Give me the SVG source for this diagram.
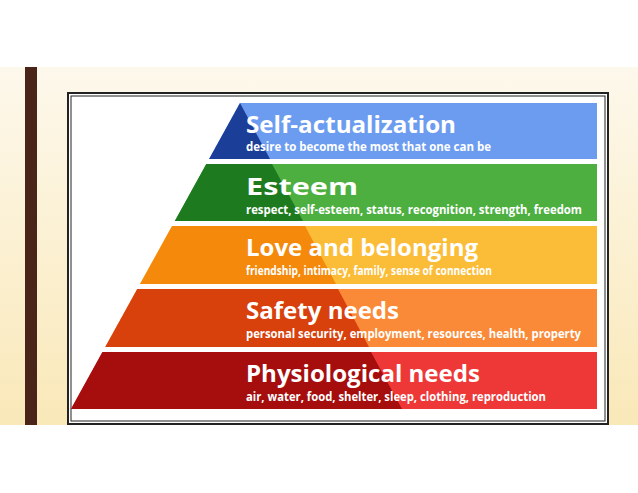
<svg xmlns="http://www.w3.org/2000/svg" width="638" height="493" viewBox="0 0 638 493">
<defs>
<linearGradient id="bg" x1="0" y1="0" x2="0" y2="1"><stop offset="0" stop-color="#fdf8ec"/><stop offset="1" stop-color="#f9e8b8"/></linearGradient>
<clipPath id="pyr"><polygon points="240,103 597,103 597,409 71,409"/></clipPath>
</defs>
<style>
.t{font-family:"Open Sans","DejaVu Sans",sans-serif;font-weight:bold;fill:#fff}
.h{font-size:24px}.s{font-size:12px}
</style>
<rect width="638" height="493" fill="#fff"/>
<rect x="0" y="67" width="638" height="358" fill="url(#bg)"/>
<rect x="25" y="67" width="12" height="358" fill="#4a2418"/>
<rect x="68" y="93" width="540" height="331" fill="#fff" stroke="#222" stroke-width="2"/>
<rect x="71" y="96" width="534" height="325" fill="none" stroke="#222" stroke-width="1"/>
<g clip-path="url(#pyr)">
<g id="n1"><rect x="60" y="103" width="540" height="56" fill="#6c9cf0"/><polygon points="240,103 270,159 60,159 60,103" fill="#1b3f98"/></g>
<g id="n2"><rect x="60" y="164" width="540" height="57" fill="#4caf3f"/><polygon points="272,164 303,221 60,221 60,164" fill="#1e7a1e"/></g>
<g id="n3"><rect x="60" y="226" width="540" height="58" fill="#fbbd38"/><polygon points="305,226 336,284 60,284 60,226" fill="#f5890c"/></g>
<g id="n4"><rect x="60" y="289" width="540" height="58" fill="#fa8a38"/><polygon points="338,289 369,347 60,347 60,289" fill="#d8400c"/></g>
<g id="n5"><rect x="60" y="352" width="540" height="57" fill="#ee3838"/><polygon points="371,352 402,409 60,409 60,352" fill="#a60d0d"/></g>
</g>
<g id="labels">
<text class="t h" x="246" y="133" textLength="210" lengthAdjust="spacingAndGlyphs">Self-actualization</text>
<text class="t s" x="246" y="151" textLength="245" lengthAdjust="spacingAndGlyphs">desire to become the most that one can be</text>
<text class="t h" x="246" y="195" textLength="112" lengthAdjust="spacingAndGlyphs">Esteem</text>
<text class="t s" x="246" y="214" textLength="336" lengthAdjust="spacingAndGlyphs">respect, self-esteem, status, recognition, strength, freedom</text>
<text class="t h" x="246" y="256" textLength="232" lengthAdjust="spacingAndGlyphs">Love and belonging</text>
<text class="t s" x="246" y="275" textLength="246" lengthAdjust="spacingAndGlyphs">friendship, intimacy, family, sense of connection</text>
<text class="t h" x="246" y="319" textLength="153" lengthAdjust="spacingAndGlyphs">Safety needs</text>
<text class="t s" x="246" y="338" textLength="335" lengthAdjust="spacingAndGlyphs">personal security, employment, resources, health, property</text>
<text class="t h" x="246" y="382" textLength="234" lengthAdjust="spacingAndGlyphs">Physiological needs</text>
<text class="t s" x="246" y="401" textLength="300" lengthAdjust="spacingAndGlyphs">air, water, food, shelter, sleep, clothing, reproduction</text>
</g>
</svg>
